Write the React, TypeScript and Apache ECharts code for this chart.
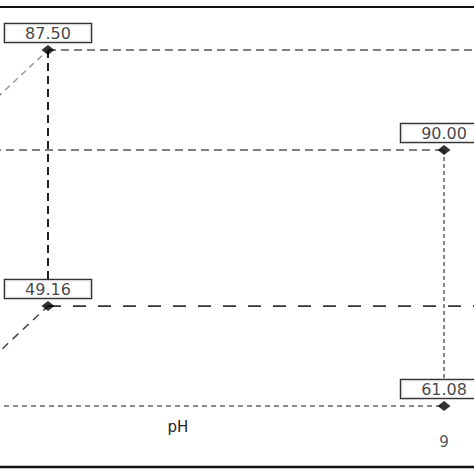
import React, { useEffect, useRef } from 'react';
import * as echarts from 'echarts';

// coded factor levels of the cube corners that are shown
const cornerPh = [1, 1, -1, -1];
const cornerLevel2 = [1, -1, 1, -1];
const cornerDepth = [0, 0, 1, 1];
const cornerValues = [90.0, 61.08, 87.5, 49.16];

const phTickLevels = [1];
const phTickLabels = ['9'];

// oblique projection of the depth factor
const DX = 0.4254;
const DY = 0.78125;
// room left for a value box above a corner (y units)
const BOX_GAP = 0.2;

const project = (ph: number, lv: number, d: number) => [ph + d * DX, lv + d * DY];

type Edge = {
  from: number[];
  to: number[];
  color: string;
  width: number;
  dash: number[];
  gap?: boolean;
};

const edges: Edge[] = [
  { from: [-1, 1, 0], to: [1, 1, 0], color: '#555', width: 1.5, dash: [8, 5] },
  { from: [-1, -1, 0], to: [1, -1, 0], color: '#666', width: 1.4, dash: [5, 4] },
  { from: [1, 1, 0], to: [1, -1, 0], color: '#555', width: 1.4, dash: [4, 3], gap: true },
  { from: [-1, 1, 0], to: [-1, -1, 0], color: '#555', width: 1.4, dash: [5, 4] },
  { from: [-1, 1, 1], to: [1, 1, 1], color: '#555', width: 1.5, dash: [8, 5] },
  { from: [-1, -1, 1], to: [1, -1, 1], color: '#333', width: 1.8, dash: [13, 12] },
  { from: [-1, 1, 1], to: [-1, -1, 1], color: '#222', width: 2, dash: [8, 5], gap: true },
  { from: [-1, 1, 0], to: [-1, 1, 1], color: '#999', width: 1.5, dash: [6, 5] },
  { from: [-1, -1, 0], to: [-1, -1, 1], color: '#444', width: 1.5, dash: [8, 6] },
];

const App: React.FC = () => {
  const chartRef = useRef<HTMLDivElement>(null);

  useEffect(() => {
    document.body.style.margin = '0';
    if (!chartRef.current) return;
    const chart = echarts.init(chartRef.current, undefined, { renderer: 'svg' });

    const lineSeries = edges.map((e) => {
      const a = project(e.from[0], e.from[1], e.from[2]);
      const b = project(e.to[0], e.to[1], e.to[2]);
      if (e.gap) b[1] += BOX_GAP;
      return {
        type: 'line',
        z: 1,
        silent: true,
        symbol: 'none',
        data: [a, b],
        lineStyle: { color: e.color, width: e.width, type: e.dash },
      };
    });

    const points = cornerValues.map((v, i) => [
      ...project(cornerPh[i], cornerLevel2[i], cornerDepth[i]),
      v,
    ]);

    const option: any = {
      animation: false,
      grid: { left: 0, right: 0, top: 0, bottom: 0 },
      xAxis: { type: 'value', min: -0.7654, max: 1.119, show: false },
      yAxis: { type: 'value', min: -1.531, max: 2.172, show: false },
      series: [
        ...lineSeries,
        {
          type: 'scatter',
          z: 10,
          symbol: 'diamond',
          symbolSize: [13, 10],
          itemStyle: { color: '#000' },
          data: points,
          label: {
            show: true,
            position: 'top',
            distance: 3,
            formatter: (p: any) => '{box|' + p.data[2].toFixed(2) + '}',
            rich: {
              box: {
                backgroundColor: '#fff',
                borderColor: '#000',
                borderWidth: 1.3,
                width: 86,
                height: 18,
                lineHeight: 18,
                align: 'center',
                fontFamily: 'DejaVu Sans',
                fontSize: 16,
                color: '#111',
              },
            },
          },
        },
        {
          type: 'scatter',
          z: 10,
          symbolSize: 0,
          data: phTickLevels.map((lv, i) => [...project(lv, -1, 0), phTickLabels[i]]),
          label: {
            show: true,
            position: 'bottom',
            distance: 28,
            formatter: (p: any) => p.data[2],
            fontFamily: 'DejaVu Sans',
            fontSize: 15,
            color: '#222',
          },
        },
      ],
      graphic: [
        {
          type: 'line',
          shape: { x1: 0, y1: 7, x2: 474, y2: 7 },
          style: { stroke: '#111', lineWidth: 2.2 },
        },
        {
          type: 'line',
          shape: { x1: 0, y1: 467, x2: 474, y2: 467 },
          style: { stroke: '#111', lineWidth: 2.5 },
        },
        {
          type: 'text',
          x: 178,
          y: 427,
          style: {
            text: 'pH',
            fontFamily: 'DejaVu Sans',
            fontSize: 15,
            fill: '#222',
            textAlign: 'center',
            textVerticalAlign: 'middle',
          },
        },
      ],
    };

    chart.setOption(option);

    const handleResize = () => chart.resize();
    window.addEventListener('resize', handleResize);
    return () => {
      window.removeEventListener('resize', handleResize);
      chart.dispose();
    };
  }, []);

  return <div ref={chartRef} style={{ width: '474px', height: '474px' }}></div>;
};

export default App;
